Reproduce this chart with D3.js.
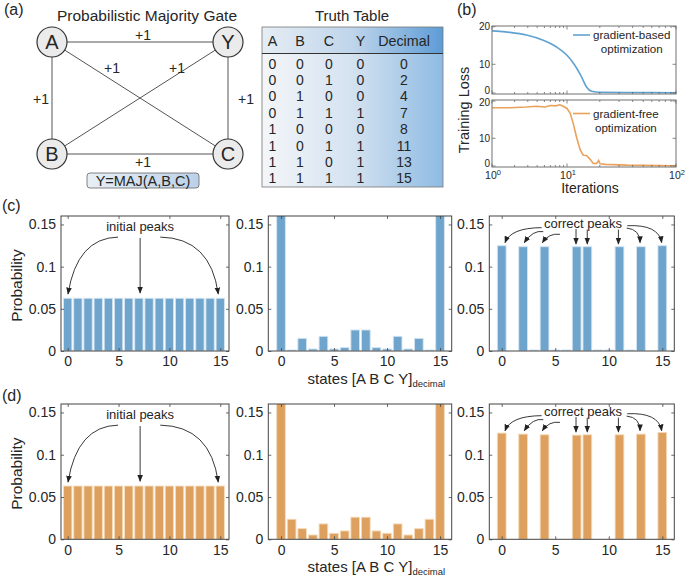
<!DOCTYPE html>
<html><head><meta charset="utf-8">
<script src="https://cdn.jsdelivr.net/npm/d3@7"></script>
<style>
body{margin:0;background:#fff}
svg{display:block;font-family:"Liberation Sans",Arial,Helvetica,sans-serif}
</style>
</head><body>
<svg id="fig" width="685" height="578"></svg>
<script>
// ---------------- DATA ----------------
const states = [0,1,2,3,4,5,6,7,8,9,10,11,12,13,14,15];
const stateTicks = [0,5,10,15];
const probTicks = [0,0.05,0.1,0.15];
// (c) gradient-based
const gbInitial = [0.0625,0.0625,0.0625,0.0625,0.0625,0.0625,0.0625,0.0625,0.0625,0.0625,0.0625,0.0625,0.0625,0.0625,0.0625,0.0625];
const gbMiddle  = [0.43,0.0012,0.015,0.0024,0.0174,0.0024,0.004,0.0249,0.0249,0.004,0.0024,0.0174,0.0024,0.015,0.0012,0.43];
const gbFinal   = [0.1248,0,0.1236,0.0012,0.1236,0.0012,0.0012,0.1236,0.1236,0.0012,0.0012,0.1236,0.0012,0.1236,0,0.1248];
// (d) gradient-free
const gfInitial = [0.063,0.063,0.063,0.063,0.063,0.063,0.063,0.063,0.063,0.063,0.063,0.063,0.063,0.063,0.063,0.063];
const gfMiddle  = [0.40,0.0237,0.0126,0.0051,0.0182,0.0071,0.0099,0.0261,0.0261,0.0099,0.0071,0.0182,0.0051,0.0126,0.0237,0.40];
const gfFinal   = [0.1256,0,0.1244,0,0.1236,0,0,0.1232,0.1236,0,0,0.1236,0,0.1244,0,0.1264];
// (b) training loss
const iterGB = [1,1.27,1.72,2.88,4.82,7.27,10,11.8,13.6,15.1,16.8,20.1,35,100];
const lossGB = [18.9,18.75,18.5,17.8,16.4,14.6,12.4,9.65,5.6,2.1,0.6,0.25,0.2,0.1];
const iterGF = [1,1.72,2.88,3.9,5.1,6.0,7.1,8.0,8.9,10,10.7,11.4,12.3,13.2,14.1,15.1,16.3,17.4,18.7,19.5,20.1,22.4,26.6,35.3,100];
const lossGF = [18.2,18.2,18.4,18.6,18.4,18.8,18.7,19.0,18.6,18.0,16.7,14.0,10,5.9,3.9,3.8,2.4,0.9,0.9,2.0,0.8,0.6,0.5,0.3,0.1];
const lossTicks = [0,10,20];
const iterMajor = [1,10,100];
const iterExp = ["0","1","2"];
// (a) gate + truth table
const gateNodes = ["A","Y","B","C"];
const gateEdges = [["A","Y"],["A","B"],["Y","C"],["B","C"],["A","C"],["B","Y"]];
const edgeWeights = ["+1","+1","+1","+1","+1","+1"];
const ttHeader = ["A","B","C","Y","Decimal"];
const ttA = [0,0,0,0,1,1,1,1];
const ttB = [0,0,1,1,0,0,1,1];
const ttC = [0,1,0,1,0,1,0,1];
const ttY = [0,0,0,1,0,1,1,1];
const ttDec = [0,2,4,7,8,11,13,15];

// ---------------- STYLE ----------------
const BLUE = "#6fa5cc", BLUE_EDGE = "#d3e4f1";
const ORANGE = "#dea05e", ORANGE_EDGE = "#f4dcbc";
const FRAME = "#444";
const TXT = "#262626";

const svg = d3.select("#fig");
const defs = svg.append("defs");
function grad(id, stops){
  const g = defs.append("linearGradient").attr("id", id).attr("x1","0").attr("x2","1").attr("y1","0").attr("y2","0");
  stops.forEach(s => g.append("stop").attr("offset", s[0]).attr("stop-color", s[1]));
}
grad("ttBody", [[0,"#f4f6f9"],[0.5,"#d4e2f0"],[1,"#8ebbe3"]]);
grad("ttHead", [[0,"#e6edf4"],[0.5,"#bfd5eb"],[1,"#5d9cd6"]]);
grad("majBox", [[0,"#e8eff6"],[1,"#bcd1e8"]]);
defs.append("marker").attr("id","arr").attr("viewBox","0 0 10 10").attr("refX",9).attr("refY",5)
  .attr("markerWidth",7).attr("markerHeight",7).attr("markerUnits","userSpaceOnUse").attr("orient","auto")
  .append("path").attr("d","M0,1 L10,5 L0,9 Z").attr("fill","#222");

// panel labels
[["(a)",4,15],["(b)",457,15],["(c)",2,211],["(d)",2,401]].forEach(p=>{
  svg.append("text").attr("x",p[1]).attr("y",p[2]).attr("font-size",16).attr("fill",TXT).text(p[0]);
});

// ---------------- (a) gate graph ----------------
const nodePos = {A:[52,42], Y:[228,42], B:[52,154], C:[228,154]};
const gA = svg.append("g");
gA.append("text").attr("x",147).attr("y",21).attr("text-anchor","middle").attr("font-size",15.5).attr("fill",TXT).text("Probabilistic Majority Gate");
gA.selectAll("line.edge").data(gateEdges).join("line").attr("class","edge")
  .attr("x1",d=>nodePos[d[0]][0]).attr("y1",d=>nodePos[d[0]][1])
  .attr("x2",d=>nodePos[d[1]][0]).attr("y2",d=>nodePos[d[1]][1])
  .attr("stroke","#555").attr("stroke-width",1);
const weightPos = [[143,40],[41,104],[246,104],[143,167],[112,73],[177,73]];
gA.selectAll("text.w").data(edgeWeights).join("text").attr("class","w")
  .attr("x",(d,i)=>weightPos[i][0]).attr("y",(d,i)=>weightPos[i][1])
  .attr("text-anchor","middle").attr("font-size",14).attr("fill",TXT).text(d=>d);
const nodeG = gA.selectAll("g.node").data(gateNodes).join("g").attr("class","node")
  .attr("transform",d=>`translate(${nodePos[d][0]},${nodePos[d][1]})`);
nodeG.append("circle").attr("r",15).attr("fill","#ebebeb").attr("stroke","#333").attr("stroke-width",1.2);
nodeG.append("text").attr("text-anchor","middle").attr("dy","0.36em").attr("font-size",20).attr("fill",TXT).text(d=>d);
gA.append("rect").attr("x",87).attr("y",173).attr("width",112).attr("height",15).attr("rx",3)
  .attr("fill","url(#majBox)").attr("stroke","#666").attr("stroke-width",0.8);
gA.append("text").attr("x",143).attr("y",185.5).attr("text-anchor","middle").attr("font-size",14.5).attr("fill",TXT).text("Y=MAJ(A,B,C)");

// ---------------- truth table ----------------
const gT = svg.append("g");
gT.append("text").attr("x",352).attr("y",21).attr("text-anchor","middle").attr("font-size",15).attr("fill",TXT).text("Truth Table");
const tL=262, tR=443, tTop=27, tHead=53.5, tBot=187;
gT.append("rect").attr("x",tL).attr("y",tHead).attr("width",tR-tL).attr("height",tBot-tHead).attr("fill","url(#ttBody)");
gT.append("rect").attr("x",tL).attr("y",tTop).attr("width",tR-tL).attr("height",tHead-tTop).attr("fill","url(#ttHead)");
gT.append("rect").attr("x",tL).attr("y",tTop).attr("width",tR-tL).attr("height",tBot-tTop).attr("fill","none").attr("stroke","#777").attr("stroke-width",0.8);
gT.append("line").attr("x1",tL).attr("x2",tR).attr("y1",tHead).attr("y2",tHead).attr("stroke","#333").attr("stroke-width",1);
const colX = [272.5,300,329,360.5,404];
gT.selectAll("text.h").data(ttHeader).join("text").attr("class","h")
  .attr("x",(d,i)=>colX[i]).attr("y",46).attr("text-anchor","middle").attr("font-size",14.3).attr("fill",TXT).text(d=>d);
const rows = ttA.map((a,i)=>[a,ttB[i],ttC[i],ttY[i],ttDec[i]]);
const rowY = d3.scaleLinear().domain([0,7]).range([68.5,183.3]);
rows.forEach((r,ri)=>{
  gT.selectAll(null).data(r).join("text")
    .attr("x",(d,i)=>colX[i]).attr("y",rowY(ri)).attr("text-anchor","middle").attr("font-size",14).attr("fill",TXT).text(d=>d);
});

// ---------------- (b) training loss ----------------
function lossPanel(top, bot, yRange, iters, losses, color, legendY, name, showX, nudge){
  const x = d3.scaleLog().domain([1,10,100]).range([492,567,676]);
  const y = d3.scaleLinear().domain([0,10,20]).range(yRange);
  const g = svg.append("g");
  const cid = "clip"+name;
  defs.append("clipPath").attr("id",cid).append("rect").attr("x",492).attr("y",top).attr("width",184).attr("height",bot-top);
  const line = d3.line().x((d,i)=>x(iters[i])).y(d=>y(d)).curve(name==="gb"?d3.curveMonotoneX:d3.curveLinear);
  g.append("path").attr("d",line(losses)).attr("fill","none").attr("stroke",color).attr("stroke-width",1.6).attr("clip-path",`url(#${cid})`);
  const allT = x.ticks();
  g.selectAll("line.tb").data(allT).join("line").attr("x1",d=>x(d)).attr("x2",d=>x(d))
    .attr("y1",bot).attr("y2",d=>bot-(iterMajor.includes(d)?3.5:2)).attr("stroke","#555").attr("stroke-width",0.7);
  g.selectAll("line.tt").data(allT).join("line").attr("x1",d=>x(d)).attr("x2",d=>x(d))
    .attr("y1",top).attr("y2",d=>top+(iterMajor.includes(d)?3.5:2)).attr("stroke","#555").attr("stroke-width",0.7);
  g.selectAll("line.yl").data(lossTicks).join("line").attr("x1",492).attr("x2",495.5).attr("y1",d=>y(d)).attr("y2",d=>y(d)).attr("stroke","#555").attr("stroke-width",0.7);
  g.selectAll("line.yr").data(lossTicks).join("line").attr("x1",676).attr("x2",672.5).attr("y1",d=>y(d)).attr("y2",d=>y(d)).attr("stroke","#555").attr("stroke-width",0.7);
  g.selectAll("text.yt").data(lossTicks).join("text").attr("x",490).attr("y",(d,i)=>y(d)+nudge[i]).attr("dy","0.33em")
    .attr("text-anchor","end").attr("font-size",10).attr("fill",TXT).text(d=>d);
  g.append("rect").attr("x",492).attr("y",top).attr("width",184).attr("height",bot-top).attr("fill","none").attr("stroke","#707070").attr("stroke-width",1);
  if(showX){
    iterMajor.forEach((v,i)=>{
      const t = g.append("text").attr("x",x(v)+1).attr("y",bot+12).attr("text-anchor","middle").attr("font-size",10.5).attr("fill",TXT);
      t.append("tspan").text("10");
      t.append("tspan").attr("dy",-4.5).attr("font-size",7.5).text(iterExp[i]);
    });
  }
  // legend
  g.append("line").attr("x1",573).attr("x2",590).attr("y1",legendY).attr("y2",legendY).attr("stroke",color).attr("stroke-width",1.6);
  const lt = g.append("text").attr("x",593).attr("y",legendY+4).attr("font-size",11.6).attr("fill",TXT).text(name==="gb"?"gradient-based":"gradient-free");
  const w = lt.node().getComputedTextLength();
  g.append("text").attr("x",593+w/2).attr("y",legendY+18).attr("text-anchor","middle").attr("font-size",11.6).attr("fill",TXT).text("optimization");
}
lossPanel(26, 94, [93,64.3,26.7], iterGB, lossGB, "#5fa2d2", 35, "gb", false, [-2,0,0]);
lossPanel(100, 167, [166,138.3,101], iterGF, lossGF, "#e9a25c", 113.5, "gf", true, [-2.5,0,1.5]);
svg.append("text").attr("transform","translate(464,110) rotate(-90)").attr("dy","0.35em").attr("text-anchor","middle")
  .attr("font-size",14.5).attr("fill",TXT).text("Training Loss");
svg.append("text").attr("x",590).attr("y",192.5).attr("text-anchor","middle").attr("font-size",14).attr("fill",TXT).text("Iterations");

// ---------------- (c)/(d) bar panels ----------------
let clipN = 0;
function barPanel(o){
  const x = d3.scaleLinear().domain(o.xDomain).range([o.left,o.right]);
  const y = d3.scaleLinear().domain([0,0.16]).range([o.bottom,o.top]);
  const g = svg.append("g");
  const cid = "bclip"+(clipN++);
  defs.append("clipPath").attr("id",cid).append("rect").attr("x",o.left).attr("y",o.top).attr("width",o.right-o.left).attr("height",o.bottom-o.top);
  g.append("g").attr("clip-path",`url(#${cid})`).selectAll("rect").data(o.values).join("rect")
    .attr("x",(d,i)=>x(states[i]-0.41)).attr("width",x(0.82)-x(0))
    .attr("y",d=>y(d)).attr("height",d=>y(0)-y(d))
    .attr("fill",o.fill).attr("stroke",o.edge).attr("stroke-width",0.9);
  const ax = [
    [d3.axisBottom(x).tickValues(stateTicks).tickSize(-3).tickPadding(5.5), `translate(0,${o.bottom})`],
    [d3.axisTop(x).tickValues(stateTicks).tickSize(-3).tickFormat(""), `translate(0,${o.top})`],
    [d3.axisLeft(y).tickValues(probTicks).tickSize(-3).tickPadding(5).tickFormat(d3.format("~g")), `translate(${o.left},0)`],
    [d3.axisRight(y).tickValues(probTicks).tickSize(-3).tickFormat(""), `translate(${o.right},0)`]
  ];
  ax.forEach(a=>{
    const ag = g.append("g").attr("transform",a[1]).call(a[0]);
    ag.select(".domain").remove();
    ag.selectAll("line").attr("stroke",FRAME).attr("stroke-width",0.8);
    ag.selectAll("text").attr("fill",TXT).attr("font-size",14).attr("font-family","'Liberation Sans',Arial,sans-serif");
  });
  g.append("rect").attr("x",o.left).attr("y",o.top).attr("width",o.right-o.left).attr("height",o.bottom-o.top)
    .attr("fill","none").attr("stroke",FRAME).attr("stroke-width",1);
  if(o.yLabel){
    g.append("text").attr("transform",`translate(17,${(o.top+o.bottom)/2+2}) rotate(-90)`).attr("dy","0.35em")
      .attr("text-anchor","middle").attr("font-size",15.5).attr("fill",TXT).text("Probability");
  }
  if(o.xLabel){
    const t = g.append("text").attr("y",o.bottom+33).attr("font-size",15).attr("fill",TXT);
    const m = t.append("tspan").text("states [A B C Y]");
    t.append("tspan").attr("dy",3).attr("font-size",9.5).text("decimal");
    const w = m.node().getComputedTextLength();
    t.attr("x",(o.left+o.right)/2 - w/2);
  }
  if(o.anno){
    const a = o.anno;
    g.append("text").attr("x",x(a.tx)).attr("y",y(a.ty)).attr("text-anchor","middle").attr("font-size",13).attr("fill",TXT).text(a.text);
    a.arrows.forEach(r=>{
      const p = d3.path();
      p.moveTo(x(r[0]),y(r[1]));
      if(r[2]===null) p.lineTo(x(r[4]),y(r[5]));
      else p.quadraticCurveTo(x(r[2]),y(r[3]),x(r[4]),y(r[5]));
      g.append("path").attr("d",p.toString()).attr("fill","none").attr("stroke","#222").attr("stroke-width",0.9).attr("marker-end","url(#arr)");
    });
  }
}
const initAnno = {text:"initial peaks", tx:7.12, ty:0.1426, arrows:[
  [4.95,0.135, 0.92,0.134, 0.03,0.0676],
  [7.12,0.134, null,null, 7.12,0.0687],
  [9.1,0.135, 14.05,0.134, 14.8,0.0676]]};
const corrAnno = {text:"correct peaks", tx:7.59, ty:0.1455, arrows:[
  [3.73,0.1462, 0.84,0.146, 0.31,0.1284],
  [3.88,0.1415, 2.9,0.1436, 2.11,0.1284],
  [5.44,0.1383, 4.4,0.14, 3.8,0.1284],
  [6.94,0.1446, null,null, 6.94,0.1268],
  [7.99,0.1438, null,null, 7.99,0.1268],
  [10.9,0.1438, null,null, 10.9,0.1268],
  [11.67,0.1457, 12.91,0.1443, 12.92,0.1284],
  [11.73,0.1485, 14.67,0.1502, 14.94,0.1284]]};
const rowsCfg = [
  {top:216, bottom:351, fill:BLUE, edge:BLUE_EDGE, vals:[gbInitial,gbMiddle,gbFinal]},
  {top:404, bottom:539.3, fill:ORANGE, edge:ORANGE_EDGE, vals:[gfInitial,gfMiddle,gfFinal]}
];
const colsCfg = [
  {left:61, right:229, xDomain:[-0.66,15.86]},
  {left:268.3, right:451.7, xDomain:[-1.2,16.1]},
  {left:489.3, right:674.3, xDomain:[-1.16,16.12]}
];
rowsCfg.forEach(r=>{
  colsCfg.forEach((c,ci)=>{
    barPanel({left:c.left,right:c.right,xDomain:c.xDomain,top:r.top,bottom:r.bottom,
      fill:r.fill,edge:r.edge,values:r.vals[ci],yLabel:ci===0,xLabel:ci===1,
      anno: ci===0?initAnno:(ci===2?corrAnno:null)});
  });
});
</script>
</body></html>
